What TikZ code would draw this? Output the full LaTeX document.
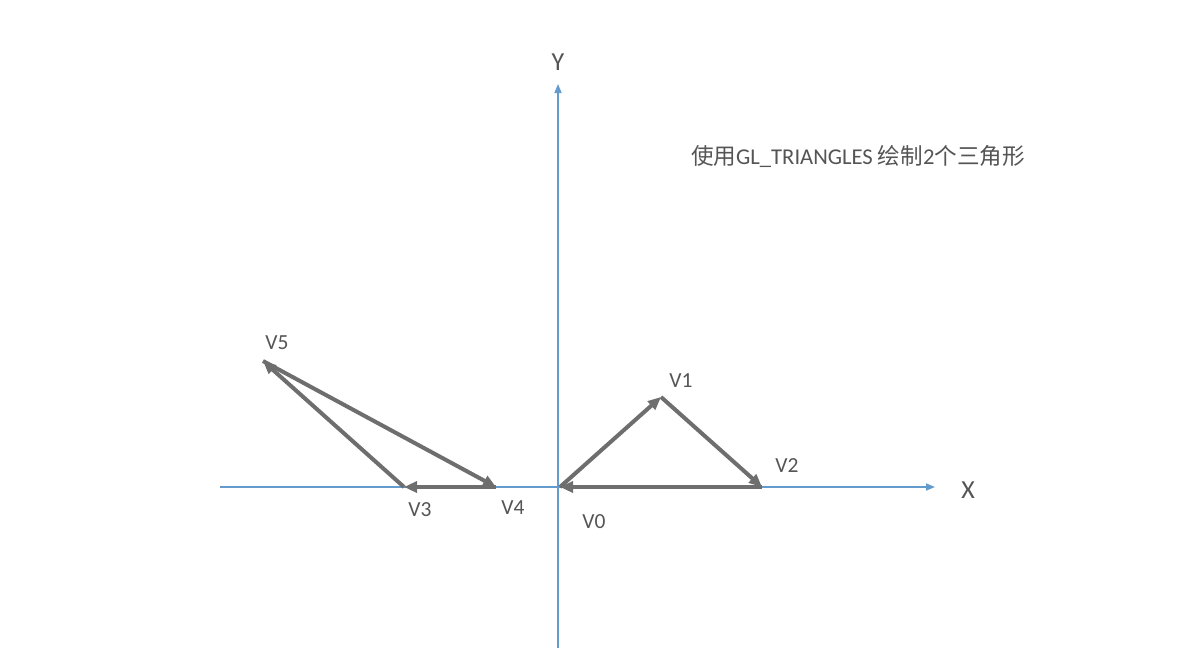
\documentclass[tikz,border=0pt]{standalone}
\usepackage{fontspec}
\setmainfont{Carlito}
\newfontfamily\cjk{Noto Sans CJK SC}
\usetikzlibrary{arrows.meta}
\definecolor{axisblue}{RGB}{100,155,205}
\definecolor{trigray}{RGB}{110,110,110}
\definecolor{txtgray}{RGB}{85,85,85}
\begin{document}
\begin{tikzpicture}[x=1pt,y=-1pt,
  axis/.style={draw=axisblue,line width=1.6pt,-{Triangle[length=9pt,width=7pt]}},
  edge/.style={draw=trigray,line width=4pt,-{Triangle[length=13pt,width=11pt]}},
  vlabel/.style={text=txtgray,font=\fontsize{21.5}{24}\selectfont,inner sep=0pt},
  axlabel/.style={text=txtgray,font=\fontsize{26}{29}\selectfont,inner sep=0pt}]
\useasboundingbox[fill=white] (0,0) rectangle (1200,657);
% axes
\coordinate (xs) at (220,487);
\coordinate (xe) at (935,487);
\coordinate (ys) at (558,648);
\coordinate (ye) at (558,84);
\draw[axis] (xs) -- (xe);
\draw[axis] (ys) -- (ye);
\node[axlabel] (xl) at (968,490) {X};
\node[axlabel] (yl) at (558,62) {Y};
% vertices
\coordinate (v0) at (560,487);
\coordinate (v1) at (661,397);
\coordinate (v2) at (762,487);
\coordinate (v3) at (404,487);
\coordinate (v4) at (496,487);
\coordinate (v5) at (263,361);
% triangle 1
\draw[edge] (v0) -- (v1);
\draw[edge] (v1) -- (v2);
\draw[edge] (v2) -- (v0);
% triangle 2
\draw[edge] (v3) -- (v5);
\draw[edge] (v5) -- (v4);
\draw[edge] (v4) -- (v3);
% labels
\node[vlabel] (l0) at (594,522) {V0};
\node[vlabel] (l1) at (681,381) {V1};
\node[vlabel] (l2) at (787,466) {V2};
\node[vlabel] (l3) at (420,510) {V3};
\node[vlabel] (l4) at (513,508) {V4};
\node[vlabel] (l5) at (277,343) {V5};
\node[text=txtgray,font=\fontsize{22.6}{26}\selectfont,inner sep=0pt] (title) at (858,156)
  {{\cjk 使用}GL\_TRIANGLES {\cjk 绘制}2{\cjk 个三角形}};
\end{tikzpicture}
\end{document}
